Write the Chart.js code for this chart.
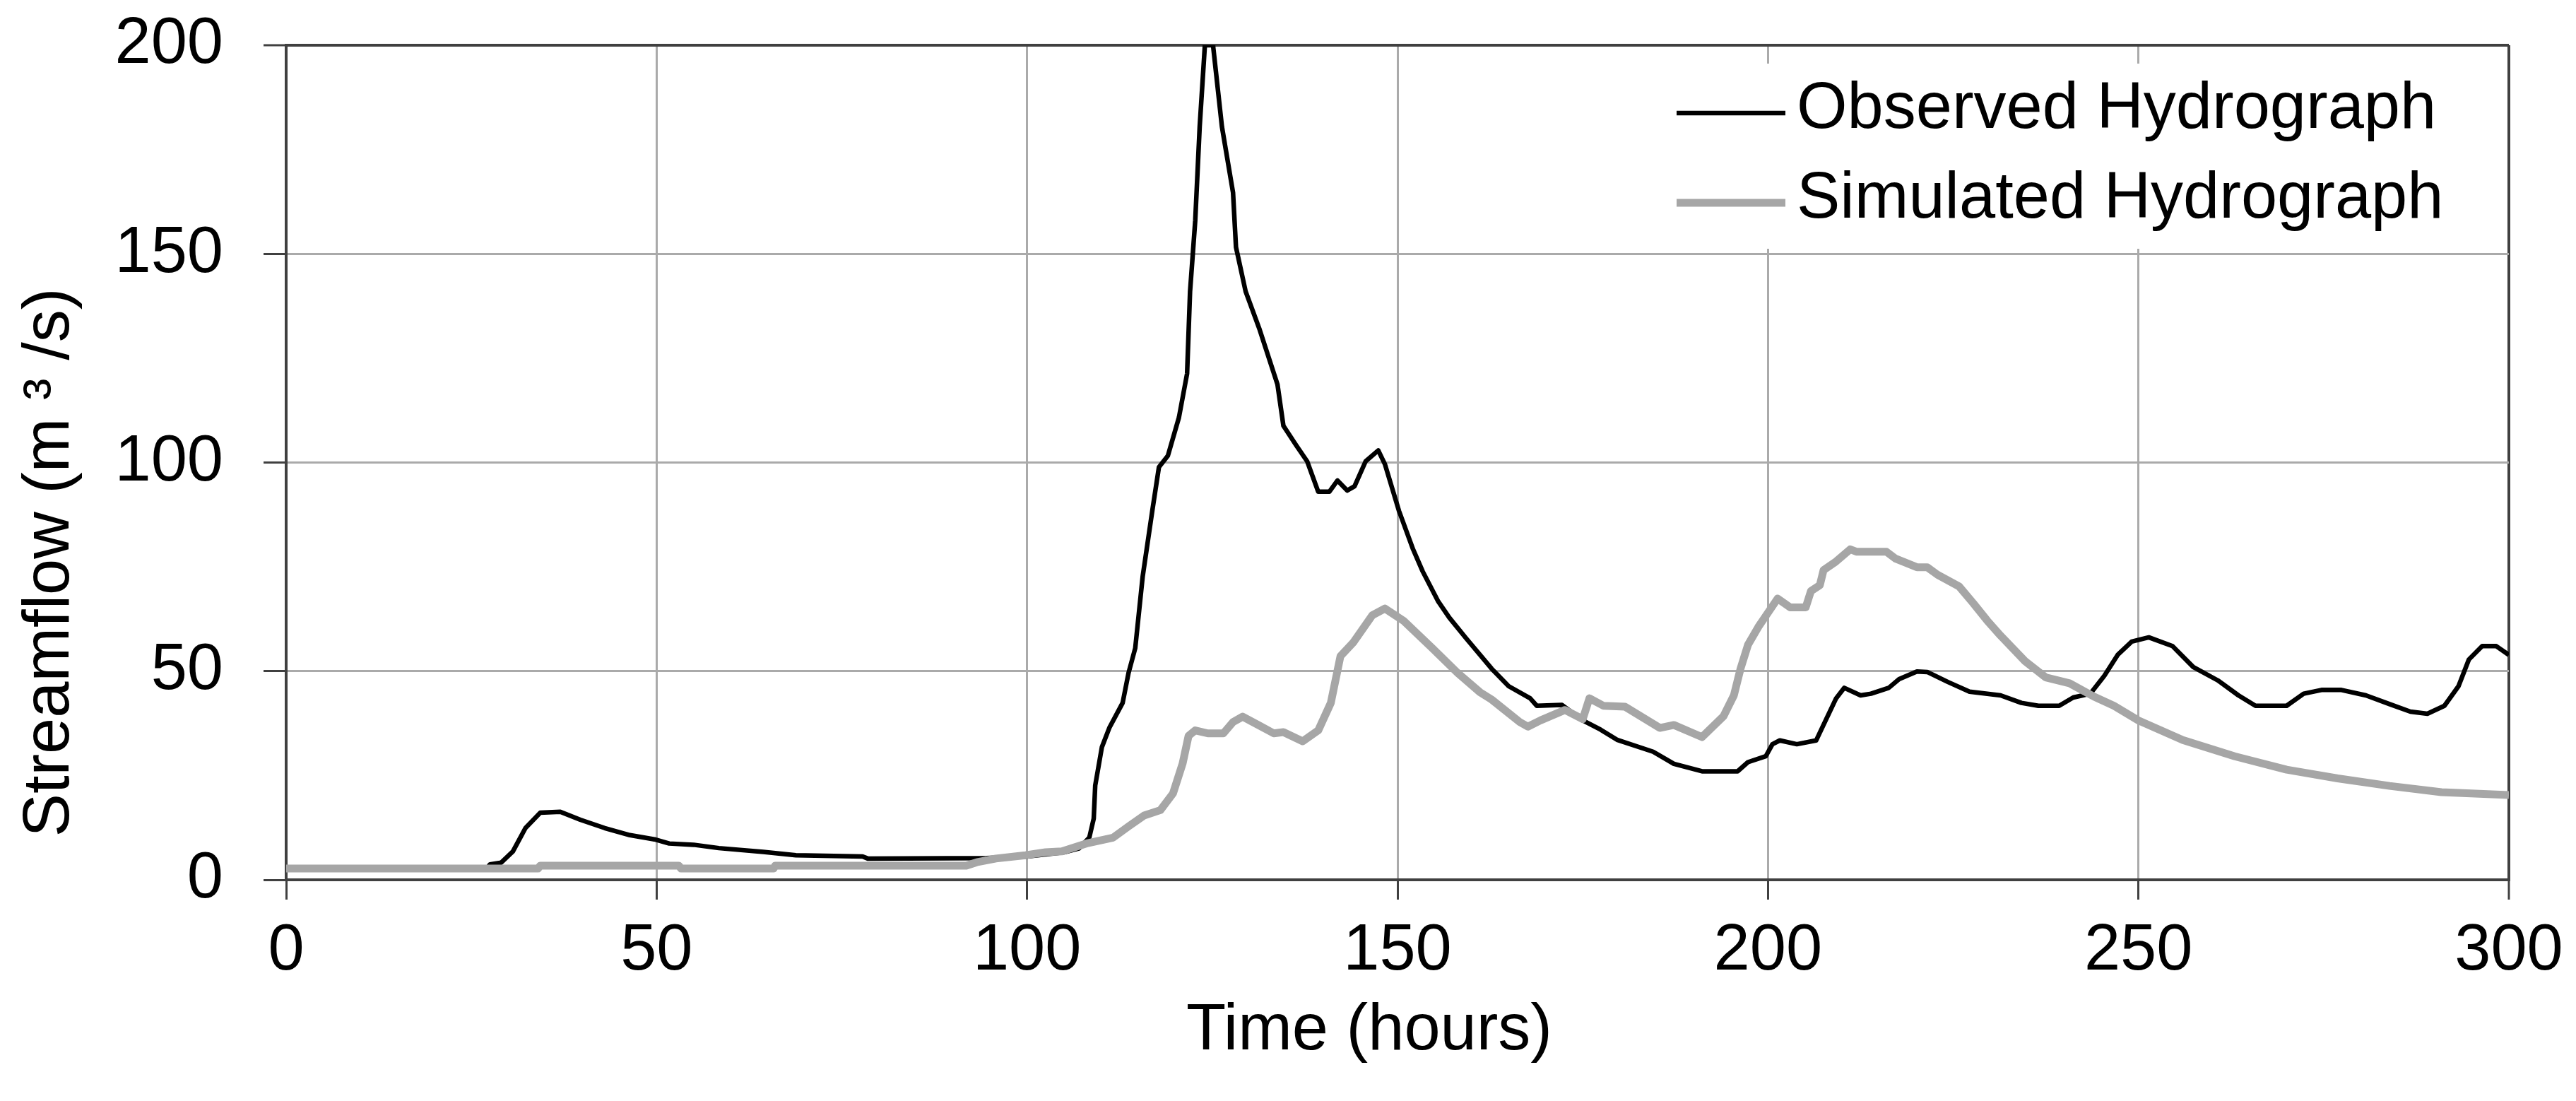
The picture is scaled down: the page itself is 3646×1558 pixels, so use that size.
<!DOCTYPE html>
<html>
<head>
<meta charset="utf-8">
<title>Observed vs Simulated Hydrograph</title>
<script src="https://cdn.jsdelivr.net/npm/chart.js@4/dist/chart.umd.min.js"></script>
<style>
  html, body { margin: 0; padding: 0; background: #fff; overflow: hidden; }
  canvas { display: block; }
</style>
</head>
<body>
<canvas id="hydro" width="3646" height="1558"></canvas>
<script>
// values (time in hours, flow in m3/s)
const obsTime = [0, 27, 27.5, 29, 30.6, 32.3, 34.3, 37, 39.7, 43, 46.4, 49.7, 51.7, 55, 58.4, 64.4, 68.8, 77.8, 78.5, 94.5,
  100, 105, 107, 108.4, 109, 109.2, 110.1, 111.1, 112.9, 113.7, 114.6, 115.6, 116.9, 117.8, 119, 120.5, 121.6, 122, 122.7, 123.3,
  124, 125.1, 126.3, 127.8, 128.2, 129.5, 131.4, 133.8, 134.6, 136.3, 137.8, 139.3, 140.8, 141.9, 143.2, 144.2, 145.7, 147.4, 148.3, 150.2,
  152.1, 153.4, 155.5, 157, 159.3, 162.7, 165, 167.9, 168.8, 172.2, 175, 177.4, 179.7, 184.5, 187.3, 191.1, 195.9, 197.3, 199.7, 200.6,
  201.6, 203.9, 206.5, 207.3, 209.2, 210.3, 212.5, 213.9, 216.3, 217.7, 220.1, 221.5, 224.3, 227.2, 231.4, 234.2, 236.5, 239.3, 241.2, 243.5,
  245.4, 247.2, 249.1, 251.4, 254.6, 257.4, 260.7, 263.5, 265.8, 270, 272.3, 274.7, 277.4, 280.7, 283.9, 286.7, 289, 291.3, 293.2, 294.6,
  296.4, 298.3, 300];
const obsFlow = [2.5, 2.5, 3.7, 4.1, 6.8, 12.4, 16.1, 16.3, 14.4, 12.4, 10.7, 9.7, 8.7, 8.4, 7.6, 6.7, 5.9, 5.6, 5.1, 5.2,
  5.6, 6.6, 7.5, 10.1, 14.7, 22.6, 31.8, 36.4, 42.4, 49.6, 55.5, 72.6, 88.4, 98.9, 101.6, 110.8, 121.3, 141, 158, 180.5,
  200, 200, 180.5, 164.7, 151.6, 141, 131.8, 118.7, 108.8, 104.2, 100.3, 93, 93, 95.7, 93.3, 94.3, 100.3, 102.9, 99.6, 88.4,
  79.2, 73.9, 66.7, 62.8, 57.8, 50.6, 46.4, 43.5, 41.7, 41.9, 38.2, 36, 33.5, 30.7, 27.8, 26, 26, 28.2, 29.6, 32.5,
  33.4, 32.5, 33.4, 36.4, 43.5, 46, 44.2, 44.6, 46, 48.1, 49.9, 49.8, 47.4, 45.1, 44.2, 42.4, 41.7, 41.7, 43.7, 44.6,
  48.9, 53.9, 57.1, 58.1, 56, 51, 47.8, 44.2, 41.7, 41.7, 44.6, 45.5, 45.5, 44.2, 42.1, 40.3, 39.8, 41.7, 46.4, 52.8,
  56, 56, 53.9];

const simTime = [0, 34, 34.3, 53, 53.3, 65.8, 66, 91.8, 93.2, 95.8, 99.8, 102.5, 104.7, 108.2, 111.6, 113.7, 115.8, 118, 119.7, 121,
  121.8, 122.7, 124.4, 126.5, 127.8, 129.1, 131.2, 133.3, 134.6, 137.2, 139.3, 141, 142.3, 144, 146.6, 148.3, 150.8, 154.7, 158.1, 161.1,
  162.7, 166.5, 167.6, 169.3, 172.6, 175, 175.9, 177.8, 180.7, 185.4, 187.3, 191.1, 194, 195.4, 196.3, 197.3, 198.7, 201.3, 203, 205.1,
  205.8, 207, 207.5, 209.2, 211.1, 212, 216, 217.2, 220.1, 221.5, 222.9, 225.8, 227.7, 229.6, 231.4, 234.7, 237.5, 240.7, 244, 246.7,
  250, 256, 263, 270, 276.9, 283.9, 290.9, 300];
const simFlow = [2.7, 2.7, 3.4, 3.4, 2.7, 2.7, 3.4, 3.4, 4.2, 5.1, 5.9, 6.6, 6.8, 8.8, 10.1, 12.8, 15.4, 16.7, 20.7, 27.9,
  34.5, 35.8, 35.1, 35.1, 37.8, 39.1, 37.1, 35.1, 35.4, 33.2, 35.8, 42.4, 53.6, 56.8, 63.4, 65, 62.1, 55.5, 49.6, 45,
  43.2, 37.8, 36.7, 38.2, 40.7, 38.5, 43.5, 41.7, 41.5, 36.4, 37.1, 34.2, 39.2, 44.2, 50.6, 56.3, 60.6, 67.4, 65.3, 65.3,
  69.2, 70.6, 74.2, 76.3, 79.2, 78.6, 78.6, 77, 74.9, 74.9, 73.1, 70.3, 66.3, 62.1, 58.5, 52.4, 48.5, 47.1, 43.9, 41.7,
  38.2, 33.5, 29.6, 26.4, 24.3, 22.5, 21, 20.3];

const xTicks = [0, 50, 100, 150, 200, 250, 300];
const yTicks = [0, 50, 100, 150, 200];
const seriesNames = ['Observed Hydrograph', 'Simulated Hydrograph'];
const xTitle = 'Time (hours)';
const yTitle = 'Streamflow (m \u00b3 /s)';

const FONT = '"Liberation Sans", Arial, sans-serif';
const AXIS = '#404040';
const GRID = '#aaaaaa';

const toPoints = (xs, ys) => xs.map((x, i) => ({ x: x, y: ys[i] }));

// legend inside the plot (white box hides the grid behind it) + axis titles
const decorations = {
  id: 'decorations',
  beforeDatasetsDraw(chart) {
    const ctx = chart.ctx;
    ctx.save();
    ctx.fillStyle = '#fff';
    ctx.fillRect(2340, 90, 3547 - 2340, 352 - 90);
    const rows = [160, 287];
    chart.data.datasets.forEach((ds, i) => {
      const y = rows[i];
      ctx.strokeStyle = ds.borderColor;
      ctx.lineWidth = ds.borderWidth;
      ctx.lineCap = 'butt';
      ctx.beginPath();
      ctx.moveTo(2373, y);
      ctx.lineTo(2527, y);
      ctx.stroke();
      ctx.fillStyle = '#000';
      ctx.font = '92px ' + FONT;
      ctx.textAlign = 'left';
      ctx.textBaseline = 'middle';
      ctx.fillText(ds.label, 2543, y - 4);
    });
    ctx.restore();
  },
  afterDraw(chart) {
    const ctx = chart.ctx;
    ctx.save();
    ctx.fillStyle = '#000';
    ctx.font = '92px ' + FONT;
    ctx.textAlign = 'center';
    ctx.textBaseline = 'alphabetic';
    ctx.fillText(xTitle, 1938, 1485);
    ctx.translate(97, 796);
    ctx.rotate(-Math.PI / 2);
    ctx.fillText(yTitle, 0, 0);
    ctx.restore();
  }
};

new Chart(document.getElementById('hydro'), {
  type: 'line',
  data: {
    datasets: [
      {
        label: seriesNames[0],
        data: toPoints(obsTime, obsFlow),
        borderColor: '#000000',
        borderWidth: 6.5,
        pointRadius: 0,
        tension: 0,
        borderJoinStyle: 'round',
        order: 1
      },
      {
        label: seriesNames[1],
        data: toPoints(simTime, simFlow),
        borderColor: '#a6a6a6',
        borderWidth: 11,
        pointRadius: 0,
        tension: 0,
        borderJoinStyle: 'round',
        order: 0
      }
    ]
  },
  options: {
    responsive: false,
    devicePixelRatio: 1,
    animation: false,
    layout: { autoPadding: false, padding: { top: 64, right: 95, left: 0, bottom: 0 } },
    plugins: { legend: { display: false }, tooltip: { enabled: false } },
    scales: {
      x: {
        type: 'linear',
        min: 0,
        max: 300,
        afterFit(scale) { scale.height = 313; scale.paddingLeft = 0; scale.paddingRight = 0; },
        afterBuildTicks(scale) { scale.ticks = xTicks.map(v => ({ value: v })); },
        ticks: { color: '#000', font: { family: FONT, size: 92 }, padding: 18, maxRotation: 0 },
        grid: {
          color: c => (c.tick && c.tick.value === 300 ? AXIS : GRID),
          lineWidth: c => (c.tick && c.tick.value === 300 ? 4 : 3),
          tickLength: 28,
          tickColor: AXIS,
          tickWidth: 3
        },
        border: { color: AXIS, width: 4 }
      },
      y: {
        min: 0,
        max: 200,
        afterFit(scale) { scale.width = 405; scale.paddingTop = 0; scale.paddingBottom = 0; },
        afterBuildTicks(scale) { scale.ticks = yTicks.map(v => ({ value: v })); },
        ticks: { color: '#000', font: { family: FONT, size: 92 }, padding: 57 },
        grid: {
          color: c => (c.tick && c.tick.value === 200 ? AXIS : GRID),
          lineWidth: c => (c.tick && c.tick.value === 200 ? 4 : 3),
          tickLength: 32,
          tickColor: AXIS,
          tickWidth: 3
        },
        border: { color: AXIS, width: 4 }
      }
    }
  },
  plugins: [decorations]
});
</script>
</body>
</html>
